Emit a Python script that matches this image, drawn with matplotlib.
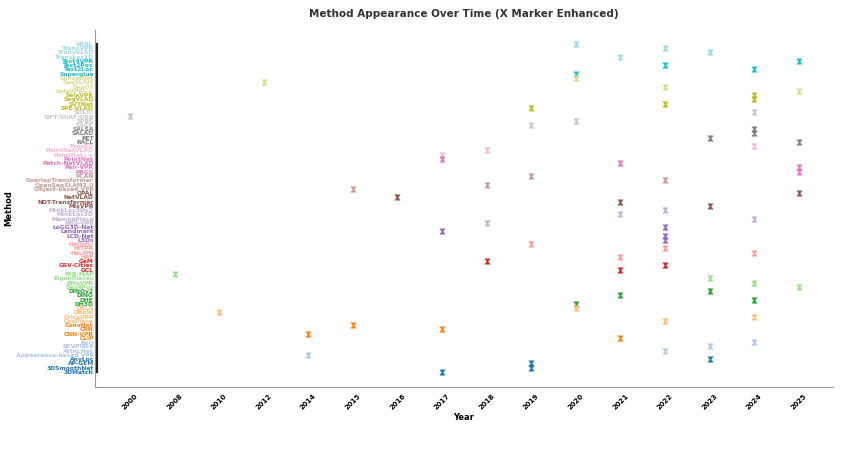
import matplotlib
matplotlib.use("Agg")
import matplotlib.pyplot as plt
import numpy as np

methods = ["VBRL","TransVPR","TransVLAD","TransLoc3D","Text4VPR","Text2Pos","Text2Loc","Superglue",
"SpoxelNet","SeqSLAM","SeqOT","SelaVPR++","SelaVPR","SeqVLAD","SVTNet","SPE-VLAD","SOLID",
"SIFT/SURF/ORB","SPBS","SAGE","SALSA","SALAD","RET","RACL","ProsEO","PointNetVLAD","PointNet++",
"PointNet","Patch-NetVLAD","Pair-VPR","PRGS","PCAN","OverlapTransformer","OpenSeqSLAM2.0",
"Object-based VPR","OPAL","NetVLAD","NDT-Transformer","MixVPR","MinkLoc3Dv2","MinkLoc3D",
"MambaPlace","MSS-VPR","LoGG3D-Net","Landmark","LCD-Net","L3Ds","Holistic","HITPR","HeLiPR","HAF",
"GeM","GSV-Cities","GCL","FAB-MAP","EigenPlaces","EffoVPR","Des4Pos","DINOv2","DINO","DHE","DH3D",
"DELG","DBoW","CricaVPR","CosPlace","ConvNet","CRN","CNN-VPR","CLIP","BoQ","BEVPlace","AttnLNet",
"Appearance-based VPR","AnyLoc","AP-GEM","3DSmoothNet","3DMatch"]
years = [2020,2022,2023,2021,2025,2022,2024,2020,
2020,2012,2022,2025,2024,2024,2022,2019,2024,
2000,2020,2019,2024,2024,2023,2025,2024,2018,2017,
2017,2021,2025,2025,2019,2022,2018,
2015,2025,2016,2021,2023,2022,2021,
2024,2018,2022,2017,2022,2022,2019,2022,2024,2021,
2018,2022,2021,2008,2023,2024,2025,2023,2021,2024,2020,
2020,2010,2024,2022,2015,2017,2014,2021,2024,2023,2022,
2014,2023,2019,2019,2017]
year_ticks = [2000,2008,2010,2012,2014,2015,2016,2017,2018,2019,2020,2021,2022,2023,2024,2025]

n = len(methods)
cmap = plt.cm.tab20
colors = [cmap(min(19, int((n-1-i)/(n-1)*20))) for i in range(n)]
xpos = [year_ticks.index(y) for y in years]
ypos = np.arange(n)

fig = plt.figure(figsize=(8.42, 4.59), dpi=100)
ax = fig.add_axes([0.113, 0.157, 0.876, 0.778])
hour = [(-1,1),(1,1),(0.2,0),(1,-1),(-1,-1),(-0.2,0),(-1,1)]
for x, y, c in zip(xpos, ypos, colors):
    ax.scatter(x, y, marker=hour, s=15, color=c, linewidths=0.3, edgecolors=c, zorder=3)

ax.set_xlim(-0.78, 15.76)
ax.set_ylim(80.5, -3.3)
ax.set_yticks(ypos)
ax.set_yticklabels(methods, fontsize=4.3, fontweight='bold')
for lab, c in zip(ax.get_yticklabels(), colors):
    lab.set_color(c)
ax.tick_params(axis='y', length=0, pad=1)
ax.set_xticks(range(len(year_ticks)))
ax.set_xticklabels([str(y) for y in year_ticks], rotation=45, fontsize=5, fontweight='bold')
ax.tick_params(axis='x', length=0, pad=4)
for s in ['top', 'right']:
    ax.spines[s].set_visible(False)
for s in ['left', 'bottom']:
    ax.spines[s].set_color('#999999')
    ax.spines[s].set_linewidth(0.8)
ax.plot([-0.74, -0.74], [0, n-1], color='#222222', lw=1.6, clip_on=False, zorder=4)
ax.set_xlabel('Year', fontsize=6, fontweight='bold', labelpad=2)
ax.set_ylabel('Method', fontsize=6, fontweight='bold', labelpad=2)
ax.set_title('Method Appearance Over Time (X Marker Enhanced)', fontsize=7.5, fontweight='bold', color='#333333', pad=9)
fig.savefig('out.png', dpi=100)
